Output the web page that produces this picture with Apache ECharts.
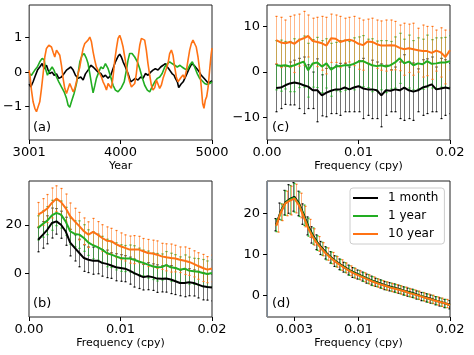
<!DOCTYPE html>
<html><head><meta charset="utf-8">
<script src="https://cdn.jsdelivr.net/npm/echarts@6/dist/echarts.min.js"></script>
<style>html,body{margin:0;padding:0;background:#fff}#c{width:474px;height:355px}</style>
</head><body><div id="c"></div>
<script>
// ---------- Panel (a): time series ----------
const aBlackYears = [3001,3019,3044,3063,3092,3117,3143,3165,3190,3208,3227,3252,3274,3300,3325,3354,3383,3409,3427,3456,3482,3507,3536,3565,3591,3616,3645,3674,3700,3718,3755,3784,3809,3835,3864,3893,3918,3944,3973,3991,4009,4028,4053,4082,4111,4137,4162,4191,4220,4246,4272,4300,4330,4355,4380,4410,4439,4465,4490,4512,4537,4563,4585,4600,4621,4636,4660,4685,4701,4725,4750,4780,4810,4850,4880,4920,4960,5000];
const aBlackVals = [-0.35,-0.43,-0.28,-0.14,0.06,0.15,0.25,0.10,0.20,0.06,-0.04,0.0,-0.09,-0.05,-0.18,-0.14,-0.04,0.06,0.10,0.15,0.06,-0.09,-0.18,-0.14,-0.23,-0.05,0.06,0.20,0.15,0.10,0.0,-0.04,-0.14,-0.09,-0.18,-0.09,0.10,0.30,0.46,0.52,0.44,0.30,0.15,-0.04,-0.28,-0.23,-0.18,-0.23,-0.14,-0.18,-0.04,-0.09,0.0,0.06,0.10,0.06,0.15,0.20,0.25,0.15,0.06,-0.04,-0.09,-0.18,-0.28,-0.45,-0.35,-0.28,-0.23,-0.05,0.10,0.25,0.18,0.05,-0.08,-0.20,-0.32,-0.25];

const aGreenYears = [3001,3026,3063,3090,3117,3143,3165,3180,3201,3227,3252,3274,3300,3325,3354,3383,3409,3427,3445,3463,3492,3518,3536,3555,3580,3602,3627,3645,3664,3682,3700,3718,3736,3762,3784,3809,3835,3864,3893,3918,3944,3973,4009,4040,4064,4082,4100,4126,4155,4184,4210,4235,4264,4293,4319,4345,4374,4403,4428,4455,4483,4512,4537,4563,4592,4620,4650,4672,4700,4730,4760,4785,4810,4840,4865,4892,4920,4947,4974,5000];
const aGreenVals = [-0.04,-0.09,0.06,0.15,0.30,0.40,0.36,0.10,-0.09,0.05,0.15,0.05,-0.14,-0.28,-0.43,-0.57,-0.76,-0.96,-1.02,-0.86,-0.62,-0.33,-0.04,0.30,0.49,0.54,0.40,0.25,-0.04,-0.33,-0.60,-0.40,-0.18,0.0,0.15,0.10,0.25,0.10,-0.14,-0.38,-0.52,-0.57,-0.45,-0.28,0.06,0.35,0.54,0.54,0.44,0.30,0.10,-0.14,-0.38,-0.52,-0.57,-0.43,-0.28,-0.18,-0.14,-0.04,0.15,0.25,0.30,0.25,0.20,0.15,0.20,0.15,0.10,0.06,0.22,0.30,0.15,-0.05,-0.18,-0.25,-0.33,-0.36,-0.33,-0.28];

const aOrangeYears = [3001,3010,3026,3044,3063,3081,3099,3117,3136,3154,3172,3190,3216,3245,3263,3281,3300,3318,3336,3354,3372,3390,3409,3427,3445,3463,3482,3500,3518,3536,3555,3573,3591,3609,3627,3645,3664,3682,3700,3718,3736,3755,3773,3791,3809,3827,3846,3864,3882,3900,3918,3937,3955,3973,3991,4009,4028,4046,4064,4082,4100,4119,4137,4155,4173,4191,4210,4228,4246,4264,4282,4300,4319,4337,4355,4374,4392,4410,4428,4446,4465,4483,4500,4519,4537,4556,4574,4592,4610,4628,4646,4665,4683,4701,4720,4738,4756,4774,4792,4810,4828,4847,4865,4883,4898,4912,4927,4942,4958,4974,4990,5000];
const aOrangeVals = [0.05,-0.10,-0.52,-0.86,-1.05,-1.15,-1.10,-0.86,-0.47,-0.04,0.44,0.69,0.78,0.73,0.58,0.44,0.64,0.69,0.49,0.20,-0.18,-0.47,-0.62,-0.57,-0.33,-0.38,-0.57,-0.47,-0.28,-0.04,0.15,0.44,0.69,0.83,0.78,0.93,1.02,0.88,0.59,0.35,0.15,0.06,-0.04,-0.14,-0.28,-0.38,-0.52,-0.33,-0.40,-0.47,-0.14,0.35,0.69,0.98,1.07,0.93,0.73,0.44,0.15,-0.09,-0.28,-0.43,-0.47,-0.33,-0.04,0.40,0.78,0.98,1.02,0.93,0.64,0.25,-0.09,-0.38,-0.52,-0.45,-0.23,-0.28,-0.47,-0.38,-0.18,-0.04,-0.09,0.25,0.54,0.64,0.49,0.15,-0.14,-0.28,-0.23,-0.14,-0.08,-0.18,0.05,0.35,0.64,0.83,0.93,0.88,0.73,0.44,0.06,-0.43,-0.91,-1.05,-0.81,-0.71,-0.43,0.06,0.50,0.70];

// ---------- Spectra (b), (c), (d) ----------
const freq = [0.001,0.0015,0.002,0.0025,0.003,0.0035,0.004,0.0045,0.005,0.0055,0.006,0.0065,0.007,0.0075,0.008,0.0085,0.009,0.0095,0.010,0.0105,0.011,0.0115,0.012,0.0125,0.013,0.0135,0.014,0.0145,0.015,0.0155,0.016,0.0165,0.017,0.0175,0.018,0.0185,0.019,0.0195,0.020];

const bBlack  = [13.9,15.9,18.0,20.8,21.5,20.1,17.4,12.7,10.5,8.4,6.3,5.6,5.2,5.2,4.3,3.9,3.2,2.5,2.2,1.9,1.1,0.1,-0.8,-1.6,-1.2,-1.6,-2.2,-2.3,-2.2,-2.6,-3.3,-4.0,-4.0,-3.7,-4.0,-4.7,-5.4,-5.7,-5.9];
const bGreen  = [18.8,20.4,21.8,24.0,25.0,24.3,21.5,17.4,16.3,16.0,14.6,12.7,11.6,10.8,9.8,8.4,7.7,7.0,6.3,6.1,6.1,5.6,4.9,4.3,3.6,2.9,2.5,2.6,3.4,2.5,2.2,1.5,1.9,1.1,0.8,0.6,0.1,-0.3,0.1];
const bOrange = [24.3,25.4,26.8,29.1,30.9,29.5,27.0,23.6,21.5,19.5,17.4,16.0,17.1,16.0,14.6,13.5,13.3,12.1,11.2,10.5,9.8,9.8,9.8,9.1,8.4,8.2,7.7,7.0,6.6,6.3,6.1,5.6,5.2,4.7,3.9,3.0,2.2,1.5,2.0];
const errB    = [5.0,5.5,5.8,6.2,5.3,5.6,5.8,5.5,5.4,5.7,5.5,5.3,5.6,5.4,5.5,5.7,5.3,5.6,5.5,5.4,5.6,5.8,5.5,5.3,5.6,5.5,5.7,5.4,5.6,5.8,5.5,5.3,5.7,5.6,5.4,5.5,5.6,5.4,5.5];

const cBlack  = [-3.5,-3.4,-2.9,-2.5,-2.3,-2.5,-2.9,-3.2,-4.0,-4.0,-5.1,-4.5,-4.1,-3.8,-3.8,-3.4,-3.8,-3.4,-3.1,-3.6,-3.8,-3.8,-4.0,-5.1,-4.0,-4.1,-3.8,-4.0,-3.4,-4.0,-4.3,-4.0,-3.4,-3.1,-2.7,-3.8,-3.6,-3.4,-3.6];
const cGreen  = [1.5,1.4,1.5,1.2,1.5,1.9,2.3,0.4,1.9,2.1,1.2,1.9,0.5,1.2,1.3,1.5,1.5,1.8,2.3,2.4,1.9,1.5,1.3,1.5,1.2,1.5,2.1,3.0,1.9,2.3,1.5,1.9,1.7,2.4,1.8,1.9,2.1,2.1,2.4];
const cOrange = [7.0,6.5,6.3,6.6,6.2,7.0,7.4,7.9,6.8,6.6,6.3,5.8,7.4,7.3,6.6,6.9,7.1,6.8,6.2,5.9,6.7,6.6,6.1,5.8,5.8,5.9,5.8,5.3,5.0,5.2,5.0,4.8,4.6,4.6,4.2,4.7,4.3,3.3,4.8];
const errCBlack  = [5.2,4.6,4.2,4.7,4.9,5.5,6.2,4.8,4.0,6.9,4.5,5.3,5.0,5.3,5.7,5.3,4.9,5.3,5.6,6.6,5.7,6.4,6.2,6.9,5.5,4.6,4.9,6.2,7.2,6.2,6.3,4.7,6.1,6.0,6.0,4.9,6.6,6.1,5.5];
const errCGreen  = [5.4,5.6,5.2,5.5,5.8,5.3,5.6,5.9,5.2,5.5,5.7,5.4,5.8,5.3,5.6,5.5,5.2,5.7,5.4,5.6,5.3,5.8,5.5,5.4,5.7,5.2,5.6,5.5,5.3,5.8,5.4,5.6,5.5,5.7,5.3,5.6,5.4,5.5,5.6];
const errCOrange = [5.2,5.5,5.1,5.6,6.3,5.7,5.9,4.6,5.0,5.4,5.9,6.2,5.3,5.2,5.6,4.9,4.9,5.4,5.6,5.5,4.9,5.2,5.3,5.4,5.6,5.5,5.3,5.0,5.7,5.3,5.7,4.8,5.7,5.4,5.8,4.5,5.4,5.9,4.4];

const dBlack  = [17.3,20.6,22.7,23.6,24.1,22.5,19.9,17.0,14.8,13.0,11.6,10.4,9.3,8.4,7.6,6.9,6.2,5.6,5.1,4.6,4.1,3.6,3.2,2.8,2.4,2.1,1.8,1.5,1.1,0.8,0.5,0.1,-0.3,-0.6,-0.9,-1.3,-1.6,-2.0,-2.3];
const dGreen  = [17.1,20.4,22.6,23.4,23.9,22.3,19.6,16.7,14.5,12.8,11.4,10.2,9.2,8.3,7.5,6.8,6.1,5.5,5.0,4.5,4.0,3.5,3.1,2.7,2.3,2.0,1.7,1.4,1.0,0.7,0.4,0.0,-0.3,-0.7,-1.0,-1.3,-1.7,-2.0,-2.4];
const dOrange = [17.0,20.3,22.5,23.2,23.7,22.0,19.3,16.4,14.3,12.6,11.3,10.1,9.1,8.2,7.4,6.7,6.0,5.4,4.9,4.4,3.9,3.4,3.0,2.6,2.3,1.9,1.6,1.3,1.0,0.6,0.3,0.0,-0.4,-0.7,-1.0,-1.4,-1.7,-2.0,-2.4];
const errD    = [1.5,2.0,3.0,3.5,3.5,3.0,2.5,2.2,2.0,1.8,1.6,1.5,1.4,1.3,1.3,1.2,1.2,1.2,1.1,1.1,1.1,1.1,1.0,1.0,1.0,1.0,1.0,1.0,1.0,1.0,1.0,1.0,1.0,1.0,1.0,1.0,1.0,1.0,1.0];
const dMarkFreq = 0.003;

// ---------- Ticks / labels ----------
const aXTicks = [3001,4000,5000];
const aYTicks = [-1,0,1];
const bcXTicks = [0,0.01,0.02];
const dXTicks = [0.003,0.01,0.02];
const bYTicks = [0,20];
const cYTicks = [-10,0,10];
const dYTicks = [0,10,20];
const names = ['1 month','1 year','10 year'];
const panelLabels = ['(a)','(b)','(c)','(d)'];

// ---------- Build chart ----------
const COLORS = ['#000000','#22ad22','#ff7214'];
const FONT = 'DejaVu Sans';
const grids = [
  {left:29, top:5, width:183, height:135},
  {left:29, top:181, width:183, height:136},
  {left:267, top:5, width:183, height:135},
  {left:267, top:181, width:183, height:136}
].map(g => Object.assign(g, {show:true, borderColor:'#222', borderWidth:1, backgroundColor:'transparent', containLabel:false}));

const minusFmt = v => String(v).replace('-', '\u2212');
function xAx(gi, min, max, ticks, fmt, name) {
  return {type:'value', gridIndex:gi, min, max, name, nameLocation:'middle', nameGap:21,
    nameTextStyle:{fontFamily:FONT, fontSize:11, color:'#000'},
    axisLine:{show:false, onZero:false}, splitLine:{show:false},
    axisTick:{show:true, inside:false, length:4, customValues:ticks, lineStyle:{color:'#000', width:1}},
    axisLabel:{customValues:ticks, formatter:fmt, margin:6, fontFamily:FONT, fontSize:13, color:'#000', hideOverlap:false}};
}
function yAx(gi, min, max, ticks) {
  return {type:'value', gridIndex:gi, min, max,
    axisLine:{show:false, onZero:false}, splitLine:{show:false},
    axisTick:{show:true, inside:false, length:4, customValues:ticks, lineStyle:{color:'#000', width:1}},
    axisLabel:{customValues:ticks, formatter:minusFmt, margin:7, fontFamily:FONT, fontSize:13, color:'#000'}};
}
const f2 = v => v.toFixed(2);
const fd = v => (Math.abs(v-0.003) < 1e-9 ? '0.003' : v.toFixed(2));

const xAxes = [
  xAx(0, 3001, 5000, aXTicks, v => String(Math.round(v)), 'Year'),
  xAx(1, 0, 0.02, bcXTicks, f2, 'Frequency (cpy)'),
  xAx(2, 0, 0.02, bcXTicks, f2, 'Frequency (cpy)'),
  xAx(3, 0, 0.02, dXTicks, fd, 'Frequency (cpy)')
];
const yAxes = [
  yAx(0, -1.97, 1.95, aYTicks),
  yAx(1, -18.1, 38.2, bYTicks),
  yAx(2, -14.9, 14.7, cYTicks),
  yAx(3, -5.3, 28.0, dYTicks)
];

const zip = (xs, ys) => xs.map((x,i) => [x, ys[i]]);
function lineS(ai, name, color, data, width, extra) {
  return Object.assign({type:'line', name, xAxisIndex:ai, yAxisIndex:ai, data, showSymbol:false, symbol:'none',
    lineStyle:{color, width}, itemStyle:{color}, z:5, silent:true, clip:true}, extra||{});
}
function errS(ai, vals, errs, color, stemOpacity, dx, capHalf) {
  return {type:'custom', name:'err', xAxisIndex:ai, yAxisIndex:ai, silent:true, z:2, clip:true,
    data: freq.map((f,i) => [f, vals[i]-errs[i], vals[i]+errs[i]]),
    encode:{x:0, y:[1,2]},
    renderItem: (params, api) => {
      const lo = api.coord([api.value(0), api.value(1)]);
      const hi = api.coord([api.value(0), api.value(2)]);
      const x = Math.round(lo[0] + dx) + 0.5;
      return {type:'group', children:[
        {type:'line', shape:{x1:x, y1:lo[1], x2:x, y2:hi[1]}, style:{stroke:color, lineWidth:1, opacity:stemOpacity}},
        {type:'line', shape:{x1:x-capHalf, y1:hi[1], x2:x+capHalf, y2:hi[1]}, style:{stroke:color, lineWidth:1.2}},
        {type:'line', shape:{x1:x-capHalf, y1:lo[1], x2:x+capHalf, y2:lo[1]}, style:{stroke:color, lineWidth:1.2}}
      ]};
    }};
}

const series = [
  // (a)
  lineS(0, names[0], COLORS[0], zip(aBlackYears, aBlackVals), 1.6),
  lineS(0, names[1], COLORS[1], zip(aGreenYears, aGreenVals), 1.6),
  lineS(0, names[2], COLORS[2], zip(aOrangeYears, aOrangeVals), 1.6),
  // (b) error bars + lines
  errS(1, bBlack, errB, COLORS[0], 0.55, 0, 1),
  errS(1, bGreen, errB, COLORS[1], 0.5, 0, 1),
  errS(1, bOrange, errB, COLORS[2], 0.5, 0, 1),
  lineS(1, names[0], COLORS[0], zip(freq, bBlack), 2),
  lineS(1, names[1], COLORS[1], zip(freq, bGreen), 2),
  lineS(1, names[2], COLORS[2], zip(freq, bOrange), 2),
  // (c)
  errS(2, cBlack, errCBlack, COLORS[0], 0.55, 0, 1),
  errS(2, cGreen, errCGreen, COLORS[1], 0.5, 0, 1),
  errS(2, cOrange, errCOrange, COLORS[2], 0.5, 0, 1),
  lineS(2, names[0], COLORS[0], zip(freq, cBlack), 2),
  lineS(2, names[1], COLORS[1], zip(freq, cGreen), 2),
  lineS(2, names[2], COLORS[2], zip(freq, cOrange), 2),
  // (d)
  errS(3, dBlack, errD, COLORS[0], 0.55, -1.5, 1),
  errS(3, dGreen, errD, COLORS[1], 0.55, 0, 1),
  errS(3, dOrange, errD, COLORS[2], 0.55, 1.5, 1),
  lineS(3, names[0], COLORS[0], zip(freq, dBlack), 2, {markLine:{silent:true, symbol:'none', label:{show:false},
    lineStyle:{color:'#7b8896', width:1, type:'solid'}, data:[{xAxis:dMarkFreq}], animation:false}}),
  lineS(3, names[1], COLORS[1], zip(freq, dGreen), 2),
  lineS(3, names[2], COLORS[2], zip(freq, dOrange), 2)
];

const labelPos = [[33,121],[33,297],[272,121],[272,297]];
const graphic = panelLabels.map((t,i) => ({type:'text', left:labelPos[i][0], top:labelPos[i][1], z:100,
  style:{text:t, fontFamily:FONT, fontSize:13, fill:'#000'}}));

const chart = echarts.init(document.getElementById('c'), null, {renderer:'canvas'});
chart.setOption({
  animation:false,
  backgroundColor:'#fff',
  grid: grids, xAxis: xAxes, yAxis: yAxes, series, graphic,
  legend:{data:names, orient:'vertical', left:350, top:188, icon:'rect', itemWidth:25, itemHeight:2,
    itemGap:4, padding:[3,6,3,3], backgroundColor:'rgba(255,255,255,0.85)', borderColor:'#ccc', borderWidth:1, borderRadius:3,
    textStyle:{fontFamily:FONT, fontSize:12, color:'#000', lineHeight:14, padding:[0,0,0,5]}, selectedMode:false}
});
</script></body></html>
